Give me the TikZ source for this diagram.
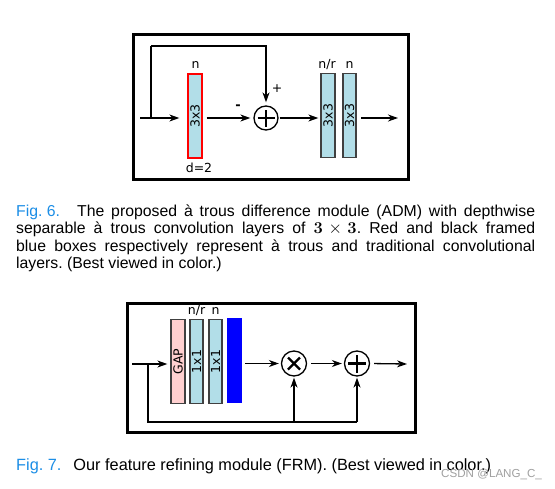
\documentclass[tikz,border=0pt]{standalone}
\usepackage[no-math]{fontspec}
\setmainfont{Liberation Sans}
\newfontfamily\djfont{DejaVu Sans}
\newfontfamily\lmfont{Latin Modern Roman}
\usetikzlibrary{arrows.meta}
\definecolor{figblue}{RGB}{28,142,230}
\definecolor{convblue}{RGB}{178,222,232}
\definecolor{gappink}{RGB}{255,208,208}
\definecolor{boxedge}{RGB}{64,64,64}
\definecolor{wm}{RGB}{160,160,160}
\begin{document}
\frenchspacing
\begin{tikzpicture}[x=1pt,y=-1pt,
  frame/.style={draw=black,line width=3pt},
  lbl/.style={font=\djfont\fontsize{12.5}{12.5}\selectfont,inner sep=0pt},
  conv/.style={draw=boxedge,line width=1.8pt,fill=convblue,minimum width=13.5pt,minimum height=84pt,inner sep=0pt,font=\djfont\fontsize{12.5}{12.5}\selectfont},
  atrous/.style={conv,draw=red},
  gapbox/.style={conv,fill=gappink},
  bluebar/.style={fill=blue,draw=none,minimum width=15pt,minimum height=85pt,inner sep=0pt},
  op/.style={circle,draw=black,line width=1.3pt,minimum size=24pt,inner sep=0pt},
  opmark/.style={line width=2.4pt},
  wire/.style={line width=1.3pt},
  arr/.style={wire,-{Stealth[length=10pt,width=7pt]}},
  captext/.style={inner sep=0pt,anchor=north west}
]
\useasboundingbox (0,0) rectangle (555,488);
\fill[white] (0,0) rectangle (555,488);

% ---------- Fig. 6 ----------
\draw[frame] (133,34) rectangle (408,179);
\coordinate (in1) at (140,118);
\coordinate (split1) at (151,118);
\coordinate (top1) at (151,46);
\node[atrous] (red) at (195,116) {\rotatebox{90}{3x3}};
\node[lbl] (nred) at (195.5,65) {n};
\node[lbl] (dred) at (199,168) {d=2};
\node[op] (plus1) at (266,118) {};
\draw[opmark] ([xshift=-8.5pt]plus1.center) -- ([xshift=8.5pt]plus1.center);
\draw[opmark] ([yshift=-8.5pt]plus1.center) -- ([yshift=8.5pt]plus1.center);
\node[lbl] (pluslbl) at (277,89) {+};
\node[lbl,font=\djfont\bfseries\fontsize{13}{13}\selectfont] (minuslbl) at (238,107) {-};
\node[conv] (c1) at (328,115.5) {\rotatebox{90}{3x3}};
\node[conv] (c2) at (349.5,115.5) {\rotatebox{90}{3x3}};
\node[lbl] (nr1) at (327,65) {n/r};
\node[lbl] (n1) at (349.5,65) {n};
\coordinate (out1) at (398,118);

\draw[arr,shorten >=8pt] (in1) -- (red.west |- in1);
\draw[wire] (split1) -- (top1);
\draw[arr,shorten >=3pt] (top1) -| (plus1.north);
\draw[arr,shorten <=4pt,shorten >=3pt] (red.east |- plus1) -- (plus1.west);
\draw[arr,shorten <=1pt,shorten >=2pt] (plus1.east) -- (c1.west |- plus1);
\draw[arr,shorten <=4pt] (c2.east |- plus1) -- (out1);

% ---------- Fig. 7 ----------
\draw[frame] (127,303) rectangle (415,432);
\coordinate (in2) at (132,364);
\coordinate (split2) at (148,364);
\coordinate (bl) at (148,422);
\coordinate (bm) at (294,422);
\coordinate (br) at (357,422);
\node[gapbox] (gap) at (178,361.5) {\rotatebox{90}{GAP}};
\node[conv] (f1) at (196.5,361.5) {\rotatebox{90}{1x1}};
\node[conv] (f2) at (215.5,361.5) {\rotatebox{90}{1x1}};
\node[bluebar] (sig) at (234.5,360.5) {};
\node[lbl] (nr2) at (196.5,311) {n/r};
\node[lbl] (n2) at (215.5,311) {n};
\node[op,minimum size=25pt] (times) at (294,363.5) {};
\draw[opmark] ([shift={(-6,-6)}]times.center) -- ([shift={(6,6)}]times.center);
\draw[opmark] ([shift={(-6,6)}]times.center) -- ([shift={(6,-6)}]times.center);
\node[op,minimum size=25pt] (plus2) at (357,363.5) {};
\draw[opmark] ([xshift=-9pt]plus2.center) -- ([xshift=9pt]plus2.center);
\draw[opmark] ([yshift=-9pt]plus2.center) -- ([yshift=9pt]plus2.center);
\coordinate (out2) at (407,364);

\draw[arr,shorten >=3pt] (in2) -- (gap.west |- in2);
\draw[wire] (split2) -- (bl) -- (br);
\draw[arr,shorten >=1pt] (bm) -- (times.south);
\draw[arr,shorten >=1pt] (br) -- (plus2.south);
\draw[arr,shorten <=3pt,shorten >=2pt] (sig.east |- times) -- (times.west);
\draw[arr,shorten <=4pt,shorten >=2pt] (times.east) -- (plus2.west);
\draw[arr,shorten <=4pt] (plus2.east) -- (out2);

% ---------- captions ----------
\node[captext,text width=519pt,align=justify,font=\fontsize{15.8}{17.5}\selectfont] (cap6) at (16,204.5)
  {\mbox{\textcolor{figblue}{Fig.\ 6.}}\hspace{17pt}The proposed à trous difference module (ADM) with depthwise\linebreak
   separable à trous convolution layers of {\lmfont\bfseries\fontsize{16.5}{17.5}\selectfont 3\,\,$\times$\,\,3}. Red and black framed\linebreak
   blue boxes respectively represent à trous and traditional convolutional\linebreak
   layers. (Best viewed in color.)};
\node[captext,font=\fontsize{16.3}{18}\selectfont] (cap7) at (16,458)
  {\textcolor{figblue}{Fig.\ 7.}\hspace{12pt}Our feature refining module (FRM). (Best viewed in color.)};
\node[font=\fontsize{11.6}{11.6}\selectfont,text=wm,inner sep=0pt,anchor=base west] (watermark) at (441,477) {CSDN @LANG\_C\_};
\end{tikzpicture}
\end{document}
